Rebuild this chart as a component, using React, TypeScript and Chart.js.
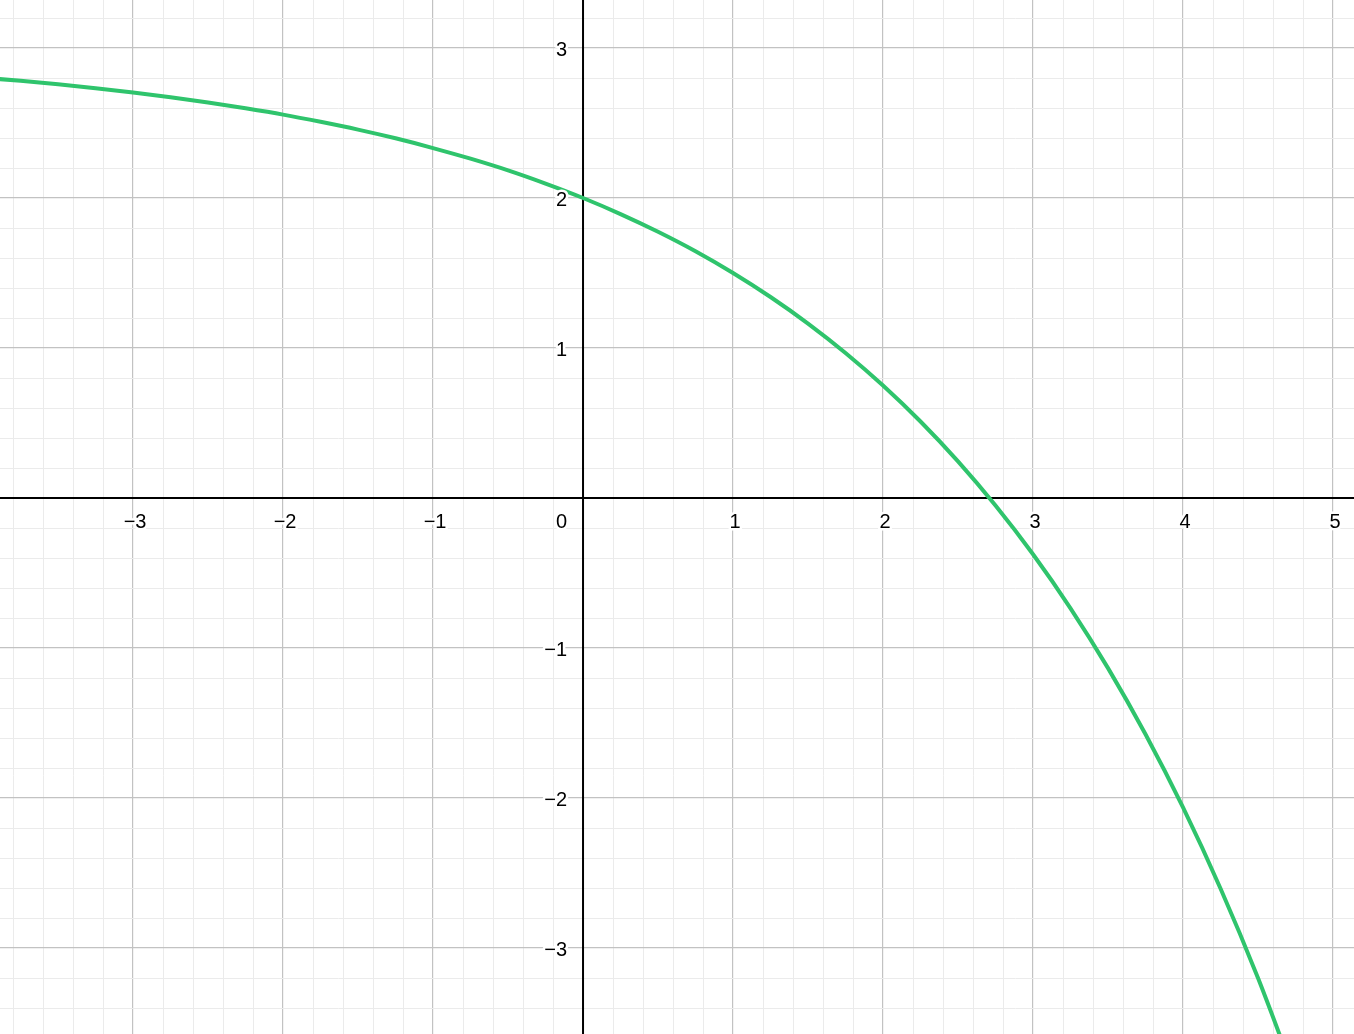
import React, { useEffect, useRef } from "react";
import { Chart, registerables } from "chart.js";

Chart.register(...registerables);

// Curve samples
const curveX = [-4, -3.75, -3.5, -3.25, -3, -2.75, -2.5, -2.25, -2, -1.75, -1.5, -1.25, -1, -0.75, -0.5, -0.25, 0, 0.25, 0.5, 0.75, 1, 1.25, 1.5, 1.75, 2, 2.25, 2.5, 2.75, 3, 3.25, 3.5, 3.75, 4, 4.25, 4.5, 4.75];
const curveY = [2.802, 2.781, 2.758, 2.732, 2.704, 2.672, 2.637, 2.598, 2.556, 2.508, 2.456, 2.398, 2.333, 2.262, 2.184, 2.096, 2.0, 1.893, 1.775, 1.645, 1.5, 1.34, 1.163, 0.967, 0.75, 0.51, 0.244, -0.05, -0.375, -0.735, -1.134, -1.575, -2.063, -2.603, -3.2, -3.862];

// Axis tick labels
const xTickValues = [-3, -2, -1, 0, 1, 2, 3, 4, 5];
const xTickLabels = ["\u22123", "\u22122", "\u22121", "0", "1", "2", "3", "4", "5"];
const yTickValues = [-3, -2, -1, 1, 2, 3];
const yTickLabels = ["\u22123", "\u22122", "\u22121", "1", "2", "3"];

const X_MIN = -3.887;
const X_MAX = 5.14;
const Y_MIN = -3.573;
const Y_MAX = 3.32;

const isMajor = (v: number) => Math.abs(v - Math.round(v)) < 1e-6;
const isZero = (v: number) => Math.abs(v) < 1e-6;

const gridColor = (ctx: any) => {
  const v = ctx.tick ? ctx.tick.value : 1;
  if (isZero(v)) return "rgba(0,0,0,0)";
  return isMajor(v) ? "#c2c2c2" : "#ebebeb";
};
const gridWidth = (ctx: any) => {
  const v = ctx.tick ? ctx.tick.value : 1;
  return isMajor(v) ? 1.2 : 1;
};

const axesPlugin = {
  id: "desmosAxes",
  beforeDatasetsDraw(chart: any) {
    const { ctx, chartArea, scales } = chart;
    const x0 = scales.x.getPixelForValue(0);
    const y0 = scales.y.getPixelForValue(0);
    ctx.save();
    ctx.strokeStyle = "#000000";
    ctx.lineWidth = 2;
    ctx.beginPath();
    ctx.moveTo(x0, chartArea.top);
    ctx.lineTo(x0, chartArea.bottom);
    ctx.moveTo(chartArea.left, y0);
    ctx.lineTo(chartArea.right, y0);
    ctx.stroke();
    ctx.restore();
  },
  afterDatasetsDraw(chart: any) {
    const { ctx, scales } = chart;
    const x0 = scales.x.getPixelForValue(0);
    const y0 = scales.y.getPixelForValue(0);
    ctx.save();
    ctx.font = '20px "Liberation Sans", Arial, sans-serif';
    ctx.textBaseline = "middle";
    ctx.lineJoin = "round";
    ctx.strokeStyle = "#ffffff";
    ctx.lineWidth = 5;
    ctx.fillStyle = "#000000";
    const draw = (t: string, x: number, y: number) => {
      ctx.strokeText(t, x, y);
      ctx.fillText(t, x, y);
    };
    xTickValues.forEach((v, i) => {
      const px = scales.x.getPixelForValue(v);
      if (v === 0) {
        ctx.textAlign = "right";
        draw(xTickLabels[i], x0 - 16, y0 + 24);
      } else {
        ctx.textAlign = "center";
        draw(xTickLabels[i], px + 2, y0 + 24);
      }
    });
    ctx.textAlign = "right";
    yTickValues.forEach((v, i) => {
      const py = scales.y.getPixelForValue(v);
      draw(yTickLabels[i], x0 - 16, py + 2);
    });
    ctx.restore();
  },
};

export default function App() {
  const ref = useRef<HTMLCanvasElement | null>(null);
  useEffect(() => {
    if (!ref.current) return;
    const chart = new Chart(ref.current, {
      type: "line",
      data: {
        datasets: [
          {
            data: curveX.map((x, i) => ({ x, y: curveY[i] })),
            borderColor: "#2fc46c",
            borderWidth: 4,
            pointRadius: 0,
            pointHoverRadius: 0,
            fill: false,
            cubicInterpolationMode: "monotone",
          },
        ],
      },
      options: {
        animation: false,
        responsive: true,
        maintainAspectRatio: false,
        layout: { padding: 0 },
        plugins: { legend: { display: false }, tooltip: { enabled: false } },
        events: [],
        scales: {
          x: {
            type: "linear",
            min: X_MIN,
            max: X_MAX,
            border: { display: false },
            grid: { color: gridColor, lineWidth: gridWidth, drawTicks: false },
            ticks: { display: false, stepSize: 0.2, autoSkip: false, includeBounds: false },
            afterFit: (s: any) => { s.height = 0; },
          },
          y: {
            type: "linear",
            min: Y_MIN,
            max: Y_MAX,
            border: { display: false },
            grid: { color: gridColor, lineWidth: gridWidth, drawTicks: false },
            ticks: { display: false, stepSize: 0.2, autoSkip: false, includeBounds: false },
            afterFit: (s: any) => { s.width = 0; },
          },
        },
      },
      plugins: [axesPlugin],
    });
    return () => chart.destroy();
  }, []);
  return (
    <div style={{ position: "fixed", left: 0, top: 0, width: 1354, height: 1034, background: "#ffffff" }}>
      <canvas ref={ref} />
    </div>
  );
}
